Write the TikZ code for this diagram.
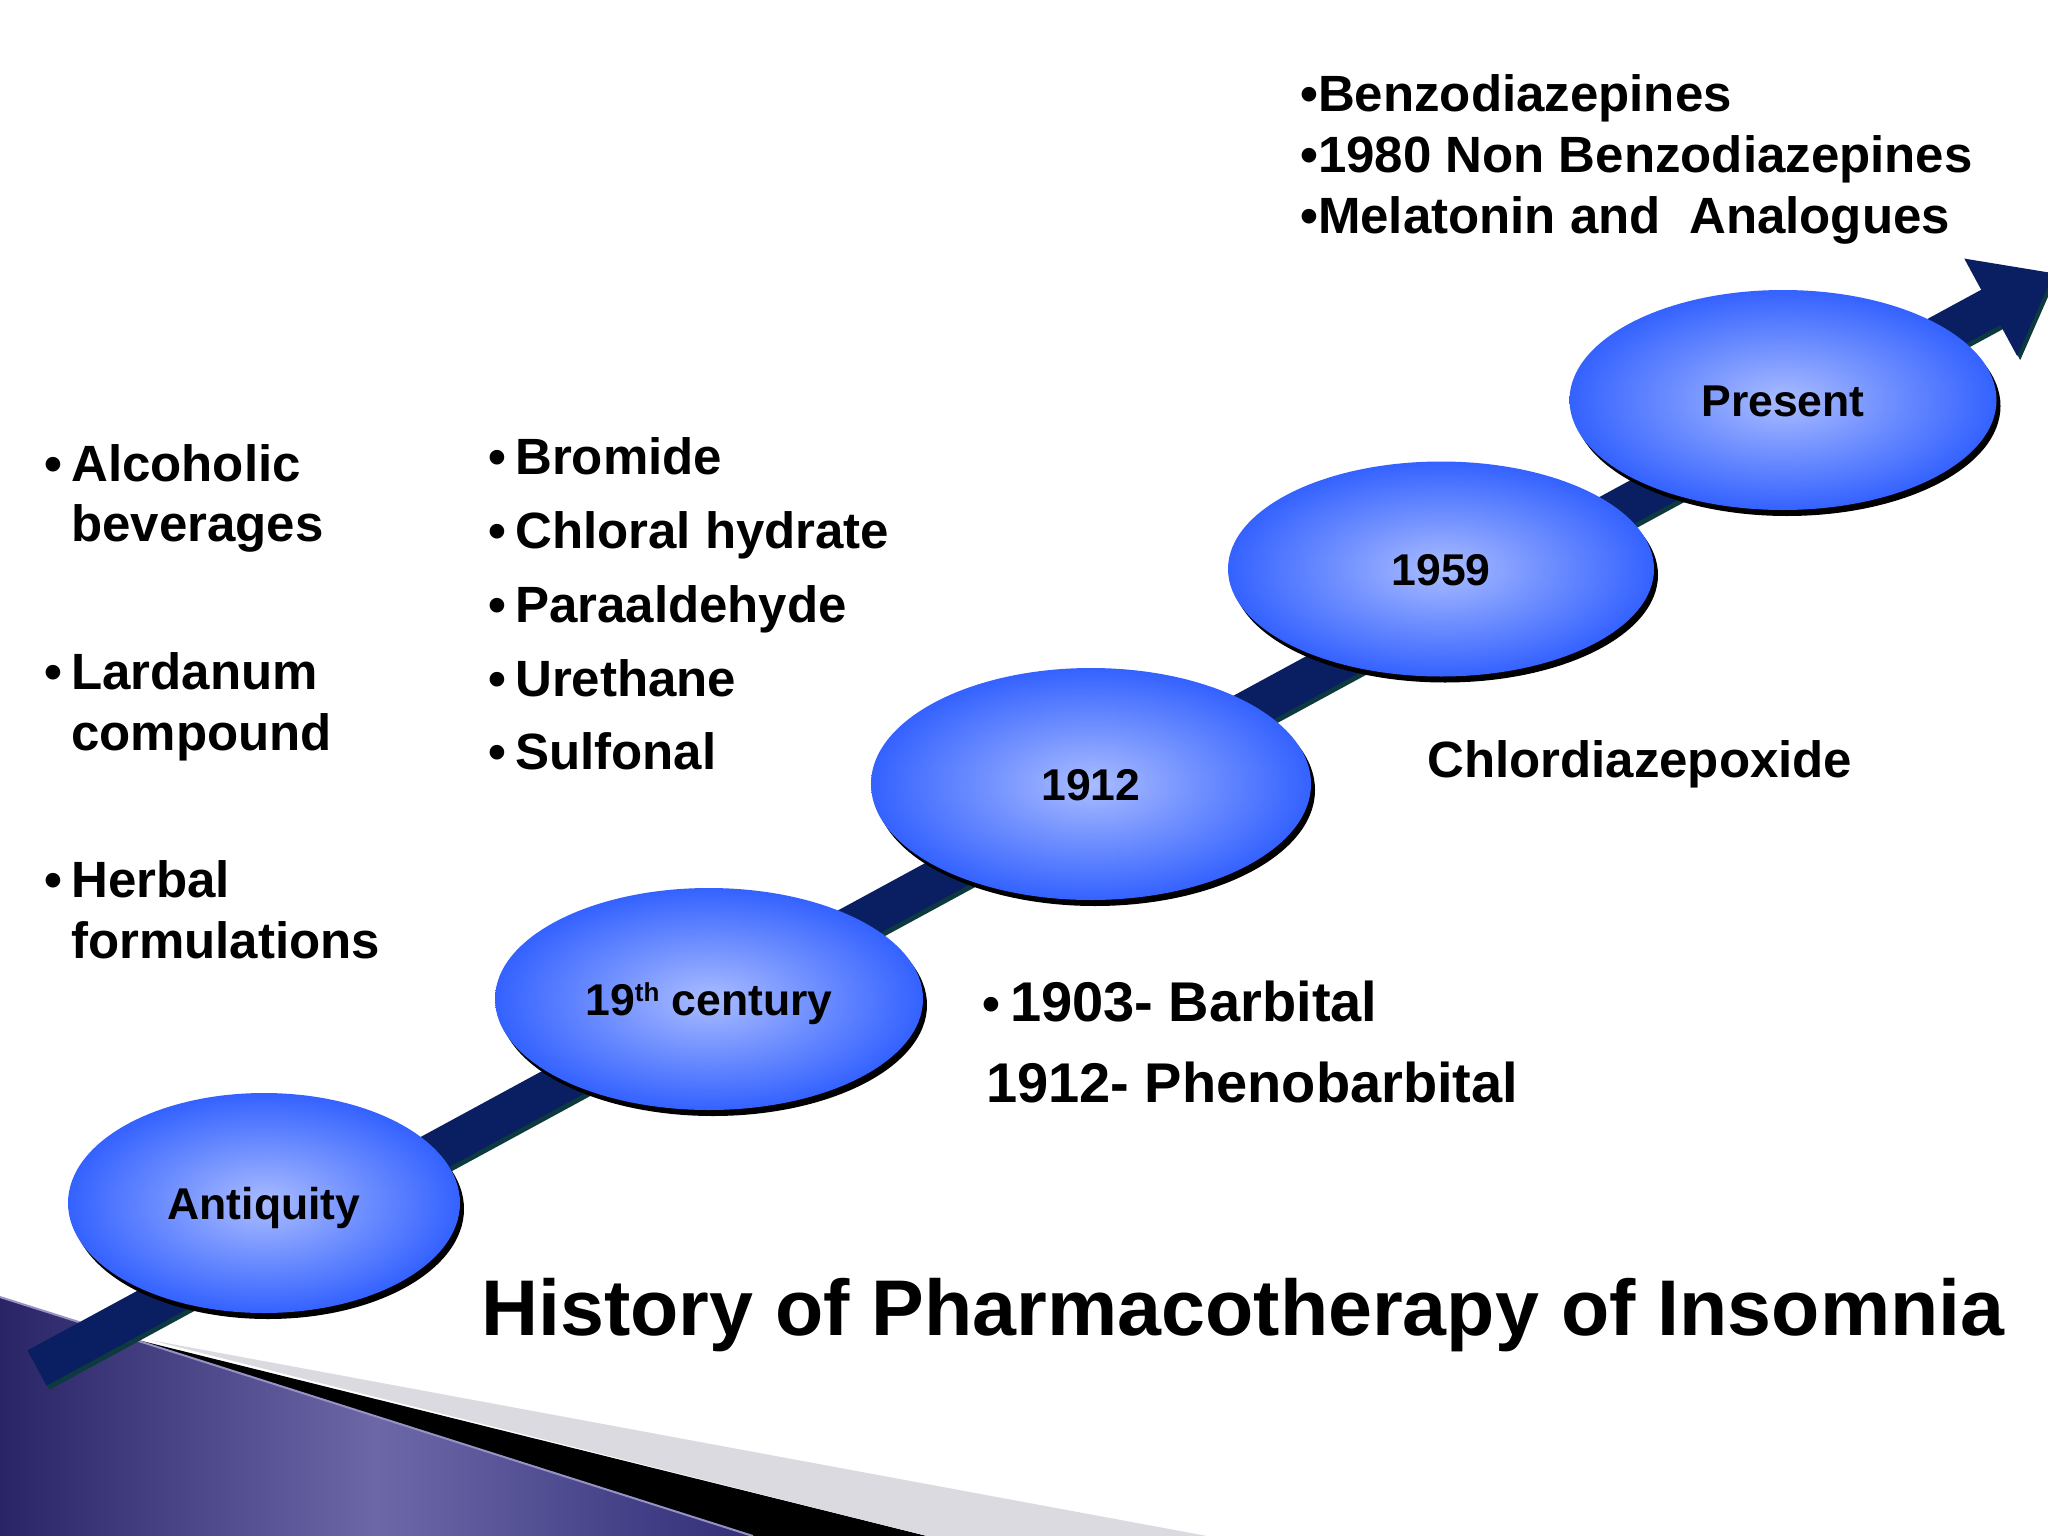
\documentclass[tikz,border=0pt]{standalone}
\usepackage{fontspec}
\setmainfont{Liberation Sans}
\usetikzlibrary{shapes.geometric,shadows,arrows.meta}
\definecolor{navy}{RGB}{10,31,98}
\definecolor{navyedge}{RGB}{12,58,62}
\definecolor{ecenter}{RGB}{170,188,255}
\definecolor{eedge}{RGB}{52,98,255}
\definecolor{purA}{RGB}{40,36,102}
\definecolor{purB}{RGB}{108,104,168}
\definecolor{purC}{RGB}{50,46,120}
\definecolor{stripe}{RGB}{218,218,224}
\definecolor{rim}{RGB}{150,146,196}
\tikzset{
  era/.style={ellipse, inner sep=0pt, shading=radial, inner color=ecenter, outer color=eedge,
    general shadow={fill=black, shadow xshift=4pt, shadow yshift=-6pt},
    font=\fontsize{44.5}{50}\selectfont\bfseries, text height=32pt, text depth=0pt},
  txt/.style={anchor=base west, inner sep=0pt, font=\fontsize{51}{60}\selectfont\bfseries},
  bigtxt/.style={txt, font=\fontsize{56}{66}\selectfont\bfseries},
  titletxt/.style={txt, font=\fontsize{79}{90}\selectfont\bfseries},
  timeline/.style={line width=40pt, -{Triangle[length=72pt,width=106pt]}},
}
\begin{document}
\begin{tikzpicture}[x=1pt,y=-1pt]
\useasboundingbox (0,0) rectangle (2048,1536);
\fill[white] (0,0) rectangle (2048,1536);
% bottom-left decoration
\fill[left color=purA, right color=purC, middle color=purB] (0,1297) -- (753,1536) -- (0,1536) -- cycle;
\fill[black] (130,1338) -- (927,1536) -- (753,1536) -- cycle;
\fill[stripe] (150,1340) -- (1207,1536) -- (927,1536) -- cycle;
\draw[rim, line width=2pt] (0,1297) -- (753,1536);
% timeline arrow
\coordinate (tail) at (37,1368);
\coordinate (head) at (2054,273);
\draw[timeline, navyedge, transform canvas={shift={(3,4)}}] (tail) -- (head);
\draw[timeline, navy] (tail) -- (head);
% eras
\node[era, minimum width=392pt, minimum height=220pt] (antiq) at (264,1203) {Antiquity};
\node[era, minimum width=428pt, minimum height=222pt] (c19) at (709,999) {19\raisebox{14pt}{\fontsize{26}{26}\selectfont th} century};
\node[era, minimum width=440pt, minimum height=232pt] (y1912) at (1091,784) {1912};
\node[era, minimum width=426pt, minimum height=215pt] (y1959) at (1441,569) {1959};
\node[era, minimum width=427pt, minimum height=220pt] (present) at (1783,400) {Present};
% left column
\node[txt] (lb1) at (44,481) {•};
\node[txt] (alc1) at (71,481) {Alcoholic};
\node[txt] (alc2) at (71,541) {beverages};
\node[txt] (lb2) at (44,689) {•};
\node[txt] (lar1) at (71,689) {Lardanum};
\node[txt] (lar2) at (71,750) {compound};
\node[txt] (lb3) at (44,897) {•};
\node[txt] (her1) at (71,897) {Herbal};
\node[txt] (her2) at (71,958) {formulations};
% middle column
\node[txt] (mb1) at (488,474) {•};
\node[txt] (bro) at (515,474) {Bromide};
\node[txt] (mb2) at (488,548) {•};
\node[txt] (chl) at (515,548) {Chloral hydrate};
\node[txt] (mb3) at (488,622) {•};
\node[txt] (par) at (515,622) {Paraaldehyde};
\node[txt] (mb4) at (488,696) {•};
\node[txt] (ure) at (515,696) {Urethane};
\node[txt] (mb5) at (488,769) {•};
\node[txt] (sul) at (515,769) {Sulfonal};
% barbiturates
\node[txt] (bb1) at (982,1021) {•};
\node[bigtxt] (barb) at (1010,1021) {1903- Barbital};
\node[bigtxt] (phen) at (986,1102) {1912- Phenobarbital};
% 1959
\node[txt] (chlord) at (1427,777) {Chlordiazepoxide};
% present
\node[txt] (benzo) at (1300,112) {•Benzodiazepines};
\node[txt] (nonbenzo) at (1300,172) {•1980 Non Benzodiazepines};
\node[txt] (mela) at (1300,233) {•Melatonin and\ \ Analogues};
% title
\node[titletxt] (title) at (481,1335) {History of Pharmacotherapy of Insomnia};
\end{tikzpicture}
\end{document}
